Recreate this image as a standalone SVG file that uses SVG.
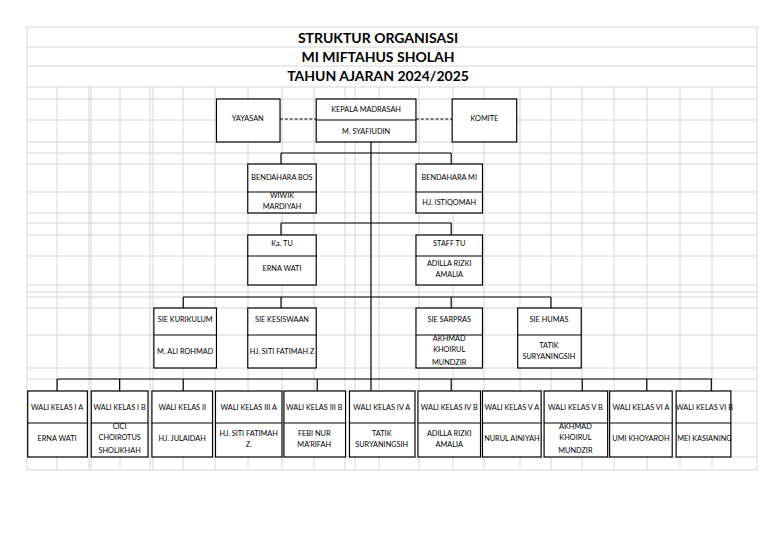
<svg xmlns="http://www.w3.org/2000/svg" width="768" height="543" viewBox="0 0 768 543">
<style>
.g{stroke:#d6d6d6;stroke-width:1;fill:none}
.b{fill:#fff;stroke:#000;stroke-width:1.2}
.c{stroke:#000;stroke-width:1.2;fill:none}
.t{font-family:Lato,"Open Sans",sans-serif;font-size:7.5px;text-anchor:middle;fill:#000}
.h{font-family:Lato,"Open Sans",sans-serif;font-size:14px;font-weight:bold;text-anchor:middle;fill:#000}
</style>
<rect width="768" height="543" fill="#fff"/>
<g id="grid" class="g">
<path d="M27 27H757M27 47H757M27 66H757M27 87H757M27 99H757M27 120H757M27 142H757M27 153H757M27 164H757M27 192H757M27 213H757M27 223H757M27 235H757M27 256H757M27 285H757M27 292H757M27 297H757M27 308H757M27 335H757M27 368H757M27 379H757M27 391H757M27 423H757M27 457H757M27 470H757"/>
<path d="M27 27V470M57 87V470M89 87V470M91 87V470M120 87V470M150 87V470M153 87V470M183 87V470M215 87V470M248 87V470M282 87V470M314 87V470M345 87V470M355 87V470M379 87V470M419 87V470M453 87V470M484 87V470M520 87V470M551 87V470M582 87V470M614 87V470M647 87V470M680 87V470M712 87V470M757 27V470"/>
</g>
<g id="title">
<text class="h" x="378" y="43">STRUKTUR ORGANISASI</text>
<text class="h" x="378" y="62">MI MIFTAHUS SHOLAH</text>
<text class="h" x="378" y="81">TAHUN AJARAN 2024/2025</text>
</g>
<g transform="translate(1.3,0) scale(0.978,1)">
<g id="connectors">
<path class="c" d="M285 119H322M424 119H461" stroke-dasharray="3,2" stroke="#555" stroke-width="1"/>
<path class="c" d="M378 142V379M286 153H460M286 153V164M460 153V164M286 223H460M286 223V235M460 223V235M186 297H562M186 297V308M286 297V308M460 297V308M562 297V308M57 379H727M57 379V391M121 379V391M186 379V391M323 379V391M378 379V391M460 379V391M594 379V391M660 379V391M726 379V391"/>
</g>
<g id="yayasan"><rect class="b" x="220" y="99" width="65" height="43"/><text class="t" x="252" y="121">YAYASAN</text></g>
<g id="kepala"><rect class="b" x="322" y="99" width="102" height="43"/><path class="c" d="M322 120H424"/><text class="t" x="373" y="112">KEPALA MADRASAH</text><text class="t" x="373" y="134">M. SYAFIUDIN</text></g>
<g id="komite"><rect class="b" x="461" y="99" width="66" height="43"/><text class="t" x="494" y="121">KOMITE</text></g>
<g id="bos"><rect class="b" x="252" y="164" width="70" height="49"/><path class="c" d="M252 192H322"/><text class="t" x="287" y="180">BENDAHARA BOS</text><text class="t" x="287" y="198">WIWIK</text><text class="t" x="287" y="209">MARDIYAH</text></g>
<g id="bmi"><rect class="b" x="424" y="164" width="68" height="49"/><path class="c" d="M424 192H492"/><text class="t" x="458" y="180">BENDAHARA MI</text><text class="t" x="458" y="205">HJ. ISTIQOMAH</text></g>
<g id="katu"><rect class="b" x="252" y="235" width="70" height="50"/><path class="c" d="M252 256H322"/><text class="t" x="287" y="246">Ka. TU</text><text class="t" x="287" y="271">ERNA WATI</text></g>
<g id="staff"><rect class="b" x="424" y="235" width="68" height="50"/><path class="c" d="M424 256H492"/><text class="t" x="458" y="246">STAFF TU</text><text class="t" x="458" y="266">ADILLA RIZKI</text><text class="t" x="458" y="277">AMALIA</text></g>
<g id="kurikulum"><rect class="b" x="156" y="308" width="64" height="60"/><path class="c" d="M156 335H220"/><text class="t" x="188" y="322">SIE KURIKULUM</text><text class="t" x="188" y="354">M. ALI ROHMAD</text></g>
<g id="kesiswaan"><rect class="b" x="252" y="308" width="70" height="60"/><path class="c" d="M252 335H322"/><text class="t" x="287" y="322">SIE KESISWAAN</text><text class="t" x="287" y="354">HJ. SITI FATIMAH Z</text></g>
<g id="sarpras"><rect class="b" x="424" y="308" width="68" height="60"/><path class="c" d="M424 335H492"/><text class="t" x="458" y="322">SIE SARPRAS</text><text class="t" x="458" y="341">AKHMAD</text><text class="t" x="458" y="352">KHOIRUL</text><text class="t" x="458" y="365">MUNDZIR</text></g>
<g id="humas"><rect class="b" x="528" y="308" width="65" height="60"/><path class="c" d="M528 335H593"/><text class="t" x="560" y="322">SIE HUMAS</text><text class="t" x="560" y="348">TATIK</text><text class="t" x="560" y="359">SURYANINGSIH</text></g>
<g id="w1"><rect class="b" x="27" y="391" width="61" height="66"/><path class="c" d="M27 423H88"/><text class="t" x="57" y="410">WALI KELAS I A</text><text class="t" x="57" y="441">ERNA WATI</text></g>
<g id="w2"><rect class="b" x="92" y="391" width="58" height="66"/><path class="c" d="M92 423H150"/><text class="t" x="121" y="410">WALI KELAS I B</text><text class="t" x="121" y="429">CICI</text><text class="t" x="121" y="440">CHOIROTUS</text><text class="t" x="121" y="453">SHOLIKHAH</text></g>
<g id="w3"><rect class="b" x="154" y="391" width="62" height="66"/><path class="c" d="M154 423H216"/><text class="t" x="185" y="410">WALI KELAS II</text><text class="t" x="185" y="441">HJ. JULAIDAH</text></g>
<g id="w4"><rect class="b" x="219" y="391" width="68" height="66"/><path class="c" d="M219 423H287"/><text class="t" x="253" y="410">WALI KELAS III A</text><text class="t" x="253" y="436">HJ. SITI FATIMAH</text><text class="t" x="253" y="447">Z.</text></g>
<g id="w5"><rect class="b" x="289" y="391" width="63" height="66"/><path class="c" d="M289 423H352"/><text class="t" x="320" y="410">WALI KELAS III B</text><text class="t" x="320" y="436">FEBI NUR</text><text class="t" x="320" y="447">MA'RIFAH</text></g>
<g id="w6"><rect class="b" x="356" y="391" width="67" height="66"/><path class="c" d="M356 423H423"/><text class="t" x="389" y="410">WALI KELAS IV A</text><text class="t" x="389" y="436">TATIK</text><text class="t" x="389" y="447">SURYANINGSIH</text></g>
<g id="w7"><rect class="b" x="426" y="391" width="64" height="66"/><path class="c" d="M426 423H490"/><text class="t" x="458" y="410">WALI KELAS IV B</text><text class="t" x="458" y="436">ADILLA RIZKI</text><text class="t" x="458" y="447">AMALIA</text></g>
<g id="w8"><rect class="b" x="492" y="391" width="60" height="66"/><path class="c" d="M492 423H552"/><text class="t" x="522" y="410">WALI KELAS V A</text><text class="t" x="522" y="441">NURUL AINIYAH</text></g>
<g id="w9"><rect class="b" x="555" y="391" width="65" height="66"/><path class="c" d="M555 423H620"/><text class="t" x="587" y="410">WALI KELAS V B</text><text class="t" x="587" y="429">AKHMAD</text><text class="t" x="587" y="440">KHOIRUL</text><text class="t" x="587" y="453">MUNDZIR</text></g>
<g id="w10"><rect class="b" x="622" y="391" width="64" height="66"/><path class="c" d="M622 423H686"/><text class="t" x="654" y="410">WALI KELAS VI A</text><text class="t" x="654" y="441">UMI KHOYAROH</text></g>
<g id="w11"><rect class="b" x="690" y="391" width="56" height="66"/><path class="c" d="M690 423H746"/><text class="t" x="719" y="410">WALI KELAS VI B</text><text class="t" x="719" y="441">MEI KASIANING</text></g>
</g>
</svg>
